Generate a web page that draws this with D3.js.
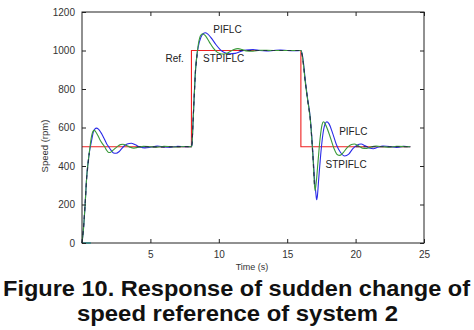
<!DOCTYPE html>
<html>
<head>
<meta charset="utf-8">
<script src="https://cdn.jsdelivr.net/npm/d3@7"></script>
<style>
  html, body { margin: 0; padding: 0; background: #fff; }
  svg { display: block; }
  text { font-family: "Liberation Sans", Arial, sans-serif; }
</style>
</head>
<body>
<svg id="chart" width="474" height="330"></svg>
<script>
// ---------------- DATA ----------------
const xTicks = [5, 10, 15, 20, 25];
const yTicks = [0, 200, 400, 600, 800, 1000, 1200];

// Reference speed (step changes)
const refT = [0, 8, 8, 16, 16, 24];
const refV = [500, 500, 1000, 1000, 500, 500];

// PIFLC response (blue)
const piflcT = [0, 0.1, 0.22, 0.34, 0.53, 0.71, 0.83, 0.95, 1.05, 1.2, 1.4, 1.6, 1.8, 1.95, 2.1, 2.3, 2.5, 2.7, 2.9, 3.1, 3.3, 3.6, 3.9, 4.2, 4.6, 5.0, 5.5, 6.0, 6.5, 7.0, 7.5, 8.0,
  8.05, 8.1, 8.2, 8.3, 8.4, 8.5, 8.7, 8.9, 9.0, 9.2, 9.5, 9.8, 10.1, 10.4, 10.8, 11.2, 11.6, 12.0, 12.5, 13.0, 13.5, 14.0, 14.5, 15.0, 15.5, 16.0,
  16.1, 16.2, 16.3, 16.5, 16.67, 16.8, 16.9, 17.0, 17.1, 17.15, 17.2, 17.3, 17.45, 17.6, 17.75, 17.9, 18.05, 18.3, 18.6, 18.9, 19.2, 19.5, 19.8, 20.1, 20.4, 20.7, 21.0, 21.3, 21.6, 22.0, 22.5, 23.0, 23.5, 24.0];
const piflcV = [0, 67, 190, 340, 467, 535, 578, 593, 597, 592, 572, 545, 516, 500, 484, 468, 466, 474, 490, 505, 514, 518, 510, 500, 494, 497, 503, 499, 498, 502, 500, 500,
  520, 600, 760, 900, 975, 1020, 1070, 1090, 1092, 1085, 1060, 1030, 1005, 990, 983, 985, 995, 1003, 1005, 1000, 998, 1000, 1002, 1000, 999, 1000,
  980, 930, 860, 745, 660, 550, 440, 330, 255, 225, 240, 330, 460, 560, 615, 630, 620, 575, 510, 470, 452, 462, 490, 508, 514, 505, 494, 490, 497, 503, 501, 497, 502, 500];

// STPIFLC response (green)
const stpiflcT = [0, 0.1, 0.22, 0.34, 0.53, 0.7, 0.8, 0.9, 1.0, 1.15, 1.3, 1.5, 1.66, 1.8, 1.95, 2.1, 2.3, 2.6, 2.8, 3.0, 3.2, 3.5, 3.8, 4.1, 4.5, 5.0, 5.5, 6.0, 6.5, 7.0, 7.5, 8.0,
  8.05, 8.1, 8.2, 8.3, 8.4, 8.5, 8.65, 8.8, 9.0, 9.3, 9.6, 9.9, 10.2, 10.5, 10.8, 11.1, 11.4, 11.7, 12.0, 12.5, 13.0, 14.0, 15.0, 16.0,
  16.1, 16.2, 16.3, 16.5, 16.67, 16.8, 16.91, 17.03, 17.1, 17.25, 17.4, 17.55, 17.65, 17.8, 18.1, 18.4, 18.65, 18.85, 19.1, 19.4, 19.7, 19.9, 20.2, 20.5, 20.8, 21.1, 21.5, 22.0, 22.5, 23.0, 24.0];
const stpiflcV = [0, 67, 190, 340, 467, 555, 580, 585, 578, 560, 538, 515, 500, 482, 470, 472, 484, 502, 511, 513, 508, 498, 493, 497, 502, 500, 498, 502, 500, 499, 501, 500,
  520, 600, 760, 900, 975, 1030, 1075, 1087, 1078, 1045, 1012, 990, 982, 983, 993, 1005, 1010, 1005, 998, 997, 1001, 1000, 1000, 1000,
  975, 920, 850, 740, 656, 540, 414, 272, 300, 420, 540, 615, 630, 615, 560, 495, 460, 455, 470, 497, 512, 514, 505, 493, 491, 498, 503, 500, 498, 502, 500];

// Dashed (dark) overlay trace: rising / falling edges and steady states (null = gap)
const dashT = [0, 0.1, 0.22, 0.34, 0.53, 0.56, 4.0, 5.0, 6.0, 7.0, 8.0, 8.05, 8.1, 8.2, 8.3, 8.42, 8.45, 11.5, 12.5, 13.5, 14.5, 15.5, 16.0, 16.1, 16.2, 16.3, 16.5, 16.67, 16.8, 16.91, 17.0, 17.02, 20.0, 21.0, 22.0, 23.0, 24.0];
const dashV = [0, 67, 190, 340, 467, null, 500, 500, 498, 501, 500, 520, 600, 760, 900, 980, null, 1000, 1000, 1000, 1000, 1000, 1000, 975, 920, 850, 740, 656, 540, 414, 290, null, 500, 500, 500, 500, 500];

// Cyan trace near zero at start
const cyanT = [0, 0.65];
const cyanV = [0, 0];

// Annotations
const annotations = [
  { text: "PIFLC", t: 9.6, v: 1090 },
  { text: "Ref.", t: 6.1, v: 940 },
  { text: "STPIFLC", t: 8.85, v: 940 },
  { text: "PIFLC", t: 18.8, v: 560 },
  { text: "STPIFLC", t: 17.8, v: 388 }
];

const xLabel = "Time (s)";
const yLabel = "Speed (rpm)";
const caption1 = "Figure 10. Response of sudden change of";
const caption2 = "speed reference of system 2";

// ---------------- CHART ----------------
const svg = d3.select("#chart");
const L = 82, R = 424, T = 12, B = 243;
const x = d3.scaleLinear().domain([0, 25]).range([L, R]);
const y = d3.scaleLinear().domain([0, 1200]).range([B, T]);

svg.append("rect").attr("width", 474).attr("height", 330).attr("fill", "#fff");

function series(ts, vs) { return ts.map((t, i) => ({ t, v: vs[i] })); }
const line = d3.line().defined(d => d.v !== null).x(d => x(d.t)).y(d => y(d.v));
const smooth = d3.line().x(d => x(d.t)).y(d => y(d.v)).curve(d3.curveMonotoneX);

const g = svg.append("g");
g.append("path").datum(series(cyanT, cyanV)).attr("d", line)
  .attr("fill", "none").attr("stroke", "#40e0e0").attr("stroke-width", 1.6);
g.append("path").datum(series(refT, refV)).attr("d", line)
  .attr("fill", "none").attr("stroke", "#ee2020").attr("stroke-width", 1.1);
g.append("path").datum(series(piflcT, piflcV)).attr("d", smooth)
  .attr("fill", "none").attr("stroke", "#2a2ae8").attr("stroke-width", 1.1);
g.append("path").datum(series(stpiflcT, stpiflcV)).attr("d", smooth)
  .attr("fill", "none").attr("stroke", "#3a9a3a").attr("stroke-width", 1.1);
g.append("path").datum(series(dashT, dashV)).attr("d", line)
  .attr("fill", "none").attr("stroke", "#1c1c48").attr("stroke-width", 1.2)
  .attr("stroke-opacity", 0.8).attr("stroke-dasharray", "4,4");

// Axes box with inward ticks
const axisColor = "#222";
svg.append("rect").attr("x", L).attr("y", T).attr("width", R - L).attr("height", B - T)
  .attr("fill", "none").attr("stroke", axisColor).attr("stroke-width", 1);

const fmt = d3.format("d");
const xb = d3.axisBottom(x).tickValues(xTicks).tickFormat(fmt).tickSizeInner(-4).tickSizeOuter(0).tickPadding(8);
const xt = d3.axisTop(x).tickValues(xTicks).tickSizeInner(-4).tickSizeOuter(0).tickFormat("");
const yl = d3.axisLeft(y).tickValues(yTicks).tickFormat(fmt).tickSizeInner(-4).tickSizeOuter(0).tickPadding(7);
const yr = d3.axisRight(y).tickValues(yTicks).tickSizeInner(-4).tickSizeOuter(0).tickFormat("");

function style(sel) {
  sel.select(".domain").remove();
  sel.selectAll(".tick line").attr("stroke", axisColor);
  sel.selectAll(".tick text").attr("fill", "#333").attr("font-size", 10)
    .attr("font-family", "Liberation Sans, Arial, sans-serif");
}
svg.append("g").attr("transform", `translate(0,${B})`).call(xb).call(style);
svg.append("g").attr("transform", `translate(0,${T})`).call(xt).call(style);
svg.append("g").attr("transform", `translate(${L},0)`).call(yl).call(style);
svg.append("g").attr("transform", `translate(${R},0)`).call(yr).call(style);

// Axis labels
svg.append("text").attr("x", 252).attr("y", 270).attr("text-anchor", "middle")
  .attr("font-size", 9).attr("fill", "#333").text(xLabel);
svg.append("text").attr("transform", "translate(48,146) rotate(-90)").attr("text-anchor", "middle")
  .attr("font-size", 9.5).attr("fill", "#333").text(yLabel);

// Annotations
svg.selectAll("text.ann").data(annotations).enter().append("text")
  .attr("class", "ann")
  .attr("x", d => x(d.t)).attr("y", d => y(d.v))
  .attr("font-size", 10).attr("fill", "#222").text(d => d.text);

// Caption
svg.append("text").attr("x", 3).attr("y", 296).attr("font-size", 22).attr("font-weight", "bold")
  .attr("fill", "#111").attr("textLength", 467).attr("lengthAdjust", "spacingAndGlyphs").text(caption1);
svg.append("text").attr("x", 77).attr("y", 321).attr("font-size", 22).attr("font-weight", "bold")
  .attr("fill", "#111").attr("textLength", 321).attr("lengthAdjust", "spacingAndGlyphs").text(caption2);
</script>
</body>
</html>
